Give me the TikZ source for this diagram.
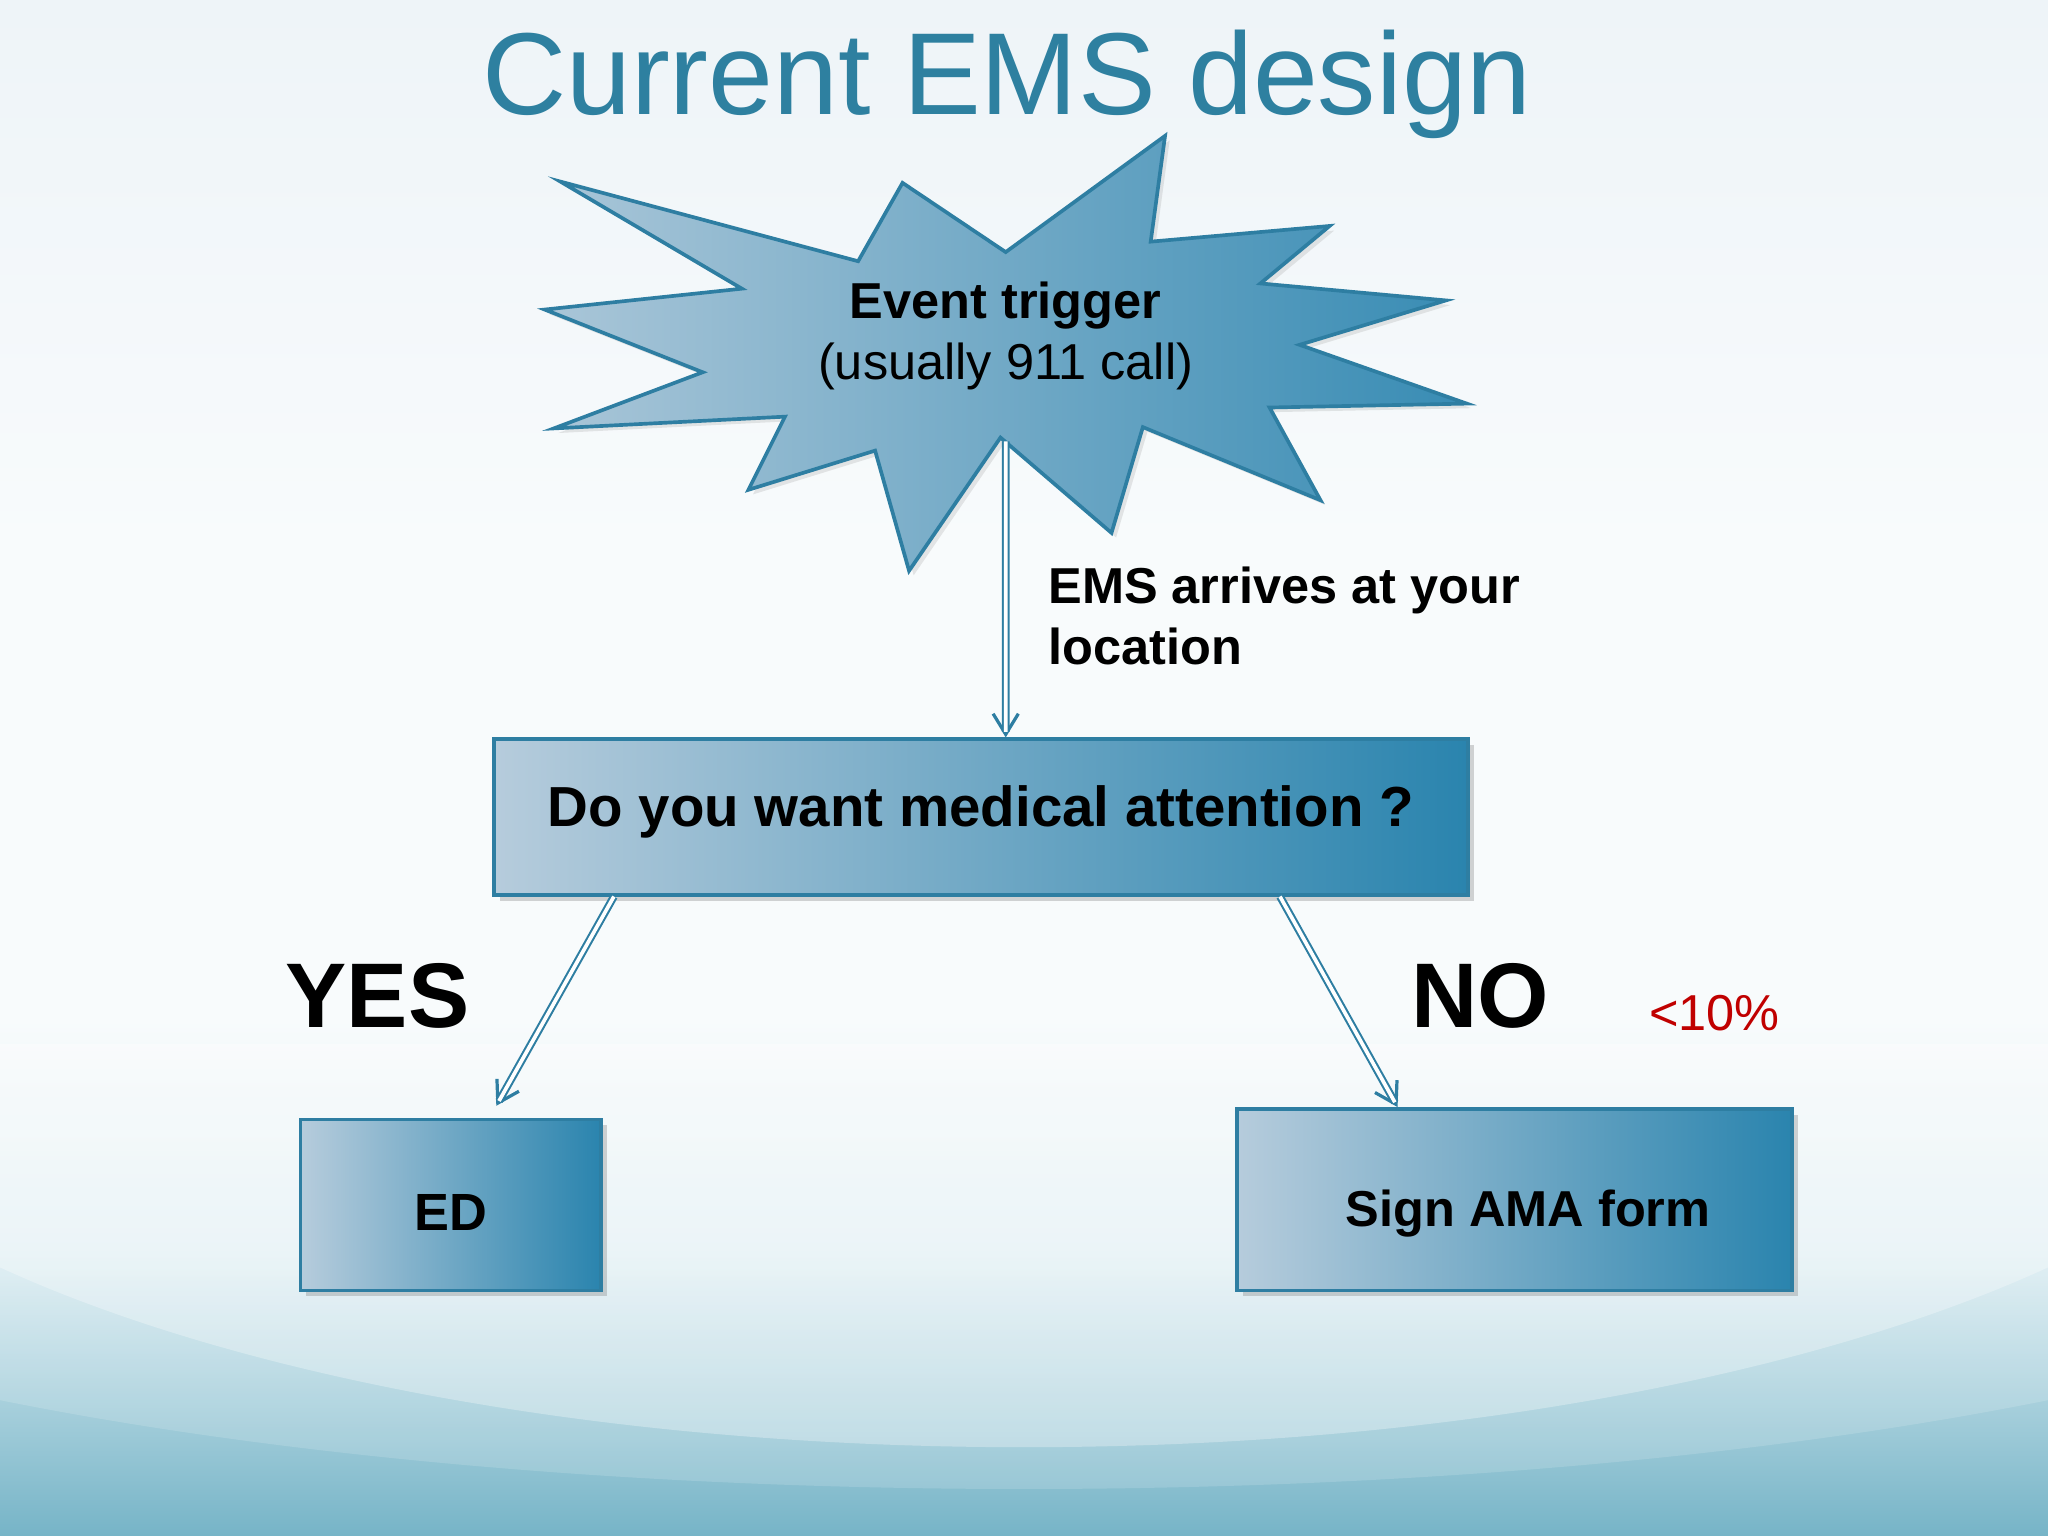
\documentclass[tikz,border=0pt]{standalone}
\usepackage{fontspec}
\setmainfont{Liberation Sans}
\usetikzlibrary{arrows.meta,shadows}
\definecolor{titleblue}{RGB}{46,128,160}
\definecolor{edgeblue}{RGB}{46,126,162}
\definecolor{boxL}{RGB}{182,204,220}
\definecolor{boxR}{RGB}{42,132,174}
\definecolor{burstL}{RGB}{170,198,216}
\definecolor{burstR}{RGB}{56,140,180}
\definecolor{bgtop}{RGB}{238,244,248}
\definecolor{bgwhite}{RGB}{248,251,252}
\definecolor{bgpale}{RGB}{222,238,243}
\definecolor{bgmid}{RGB}{176,213,224}
\definecolor{bgbot}{RGB}{118,180,199}
\definecolor{redtxt}{RGB}{192,0,0}
\newcommand\setfs[2]{\fontsize{#1}{#2}\selectfont}
\tikzset{
  softshadow/.style={drop shadow={shadow xshift=1.3pt, shadow yshift=-1.3pt, opacity=0.3, fill=black!55}},
  box/.style={draw=edgeblue, line width=0.8pt, left color=boxL, right color=boxR, inner sep=0pt, softshadow},
  burst/.style={draw=edgeblue, line width=0.8pt, left color=burstL, right color=burstR, drop shadow={shadow xshift=1pt, shadow yshift=-1pt, opacity=0.18, fill=black!50}},
  lbl/.style={inner sep=0pt, text=black},
  big/.style={inner sep=0pt, text=black, font=\bfseries\setfs{20}{24}},
  tip/.style={draw=edgeblue, line width=0.7pt, -{Straight Barb[length=4.5pt,width=5.5pt]}},
  shaft/.style={draw=edgeblue, line width=0.45pt, double=white, double distance=0.8pt, shorten >=1.2pt},
}
\begin{document}
\begin{tikzpicture}[x=0.1mm, y=-0.1mm]
\useasboundingbox (0,0) rectangle (1568,1176);
% background
\fill[bgwhite] (0,0) rectangle (1568,1176);
\shade[top color=bgtop, bottom color=bgwhite] (0,0) rectangle (1568,421);
\shade[top color=bgwhite, bottom color=bgpale] (0,780) rectangle (1568,961);
\shade[top color=bgpale, middle color=bgmid, bottom color=bgbot] (0,960) rectangle (1568,1176);
\begin{scope}
  \clip (0,800) rectangle (1568,1176);
  \fill[white, opacity=0.3] (784,745) ellipse [x radius=1000, y radius=363];
  \fill[white, opacity=0.15] (784,860) ellipse [x radius=1200, y radius=280];
\end{scope}

% title
\node[lbl, anchor=base, text=titleblue, font=\setfs{25.4}{30}] (title) at (771,88) {Current EMS design};

% starburst
\draw[burst] (429,139) -- (657,200) -- (691,140) -- (770,193) -- (892,104) -- (881,185)
  -- (1018,173) -- (965,217) -- (1107,230) -- (995,264) -- (1123,309) -- (972,312)
  -- (1011,383) -- (875,327) -- (851,408) -- (766,335) -- (696,437) -- (670,345)
  -- (573,375) -- (601,319) -- (424,328) -- (538,285) -- (417,237) -- (568,221) -- cycle;
\coordinate (burstbot) at (770,338);
\node[lbl, align=center, anchor=north, font=\setfs{11}{13.3}] (trigger) at (770,215)
  {\textbf{Event trigger}\\(usually 911 call)};

% boxes
\node[box, minimum width=74.6mm, minimum height=11.9mm, text height=3mm, text depth=1.5mm,
  font=\bfseries\setfs{12.3}{14}] (q) at (751,625.5) {Do you want medical attention ?};
\node[box, minimum width=23mm, minimum height=13.1mm, text height=3.9mm, text depth=0mm,
  font=\bfseries\setfs{11.4}{13}] (ed) at (345,922.5) {ED};
\node[box, minimum width=42.5mm, minimum height=13.9mm, text height=4.1mm, text depth=0mm,
  font=\bfseries\setfs{11}{13}] (sign) at (1159.5,918.5) {\hspace*{2.1mm}Sign AMA form};

% labels
\node[lbl, align=left, anchor=north west, font=\bfseries\setfs{11}{13.3}] (arrives) at (802,433)
  {EMS arrives at your\\location};
\node[big, anchor=base west] (yes) at (218,787) {YES};
\node[big, anchor=base west] (no) at (1080,787) {NO};
\node[lbl, anchor=base west, text=redtxt, font=\setfs{11}{13}] (pct) at (1262,789) {<10\%};

% connectors
\draw[tip] (burstbot) -- ([xshift=1.9mm]q.north);
\draw[shaft] (burstbot) -- ([xshift=1.9mm]q.north);
\draw[tip] ([xshift=-28.1mm]q.south) -- ([xshift=3.5mm,yshift=0.9mm]ed.north);
\draw[shaft] ([xshift=-28.1mm]q.south) -- ([xshift=3.5mm,yshift=0.9mm]ed.north);
\draw[tip] ([xshift=22.9mm]q.south) -- ([xshift=-8.95mm]sign.north);
\draw[shaft] ([xshift=22.9mm]q.south) -- ([xshift=-8.95mm]sign.north);
\end{tikzpicture}
\end{document}
